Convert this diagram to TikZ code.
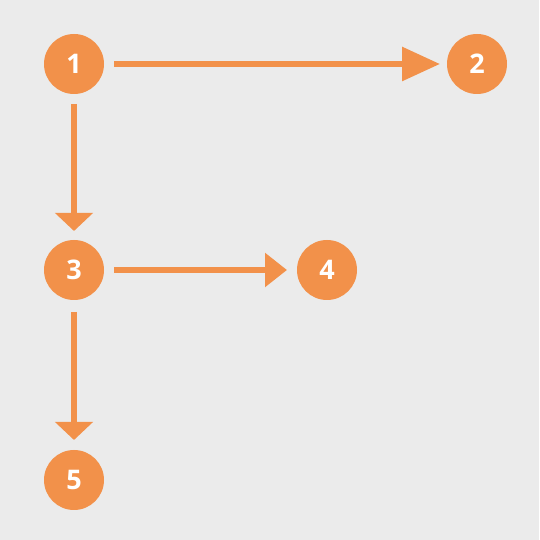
\documentclass[tikz,border=0pt]{standalone}
\usepackage{fontspec}
\setmainfont{Open Sans}
\usetikzlibrary{arrows.meta}
\definecolor{bg}{HTML}{EBEBEB}
\definecolor{orng}{HTML}{F2914A}
\tikzset{
  num/.style={circle, fill=orng, minimum size=60pt, inner sep=0pt, outer sep=0pt,
    text=white, font=\fontsize{27}{27}\selectfont\bfseries},
  conn/.style={draw=orng, line width=6pt, shorten <=10pt, shorten >=8pt},
  bigtip/.style={-{Triangle[length=38pt,width=33pt]}},
  midtip/.style={-{Triangle[length=22pt,width=33pt]}},
  downtip/.style={-{Triangle[length=18pt,width=37pt]}}
}
\begin{document}
\begin{tikzpicture}[x=1pt,y=1pt]
  \fill[bg] (0,0) rectangle (539,540);
  \useasboundingbox (0,0) rectangle (539,540);
  \node[num] (n1) at (74,476) {1};
  \node[num] (n2) at (477,476) {2};
  \node[num] (n3) at (74,270) {3};
  \node[num] (n4) at (327,270) {4};
  \node[num] (n5) at (74,60) {5};
  \draw[conn, bigtip, shorten >=7pt] (n1) -- (n2);
  \draw[conn, downtip, shorten >=9pt] (n1) -- (n3);
  \draw[conn, midtip, shorten >=10pt] (n3) -- (n4);
  \draw[conn, downtip, shorten <=12pt, shorten >=10pt] (n3) -- (n5);
\end{tikzpicture}
\end{document}
